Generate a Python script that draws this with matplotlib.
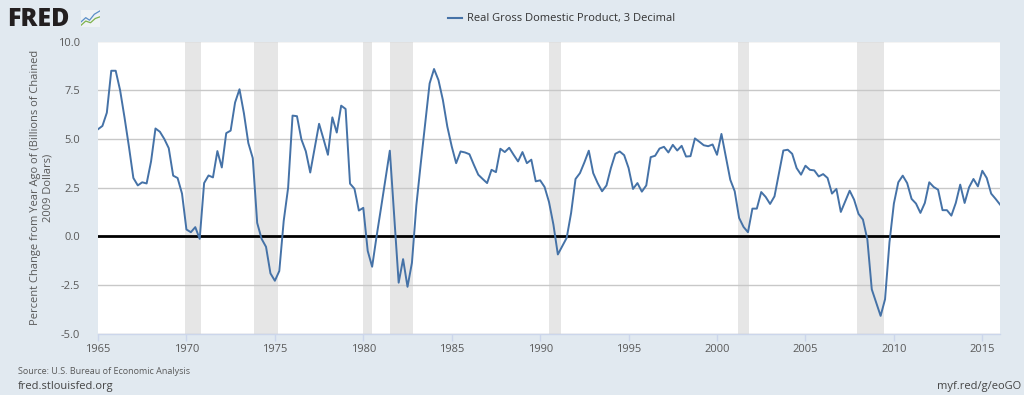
import matplotlib
matplotlib.use("Agg")
import matplotlib.pyplot as plt
import numpy as np

# ---------------- data ----------------
start_year = 1965          # first observation: 1965 Q1, quarterly
gdp_yoy = [
    5.50, 5.67, 6.35, 8.50,   # 1965
    8.50, 7.50, 6.10, 4.60,   # 1966
    3.00, 2.62, 2.78, 2.72,   # 1967
    3.85, 5.54, 5.37, 5.00,   # 1968
    4.53, 3.12, 3.00, 2.20,   # 1969
    0.36, 0.22, 0.48, -0.12,  # 1970
    2.74, 3.13, 3.03, 4.38,   # 1971
    3.54, 5.30, 5.43, 6.87,   # 1972
    7.55, 6.32, 4.79, 4.02,   # 1973
    0.70, -0.12, -0.53, -1.89,  # 1974
    -2.27, -1.77, 0.80, 2.50,   # 1975
    6.20, 6.17, 4.98, 4.37,   # 1976
    3.28, 4.53, 5.78, 5.00,   # 1977
    4.19, 6.11, 5.33, 6.71,   # 1978
    6.54, 2.71, 2.45, 1.33,   # 1979
    1.47, -0.74, -1.55, 0.00,   # 1980
    1.45, 2.94, 4.40, 1.04,   # 1981
    -2.37, -1.16, -2.58, -1.35,  # 1982
    1.60, 3.75, 5.82, 7.85,   # 1983
    8.59, 8.02, 7.00, 5.64,   # 1984
    4.62, 3.76, 4.36, 4.31,   # 1985
    4.22, 3.68, 3.17, 2.95,   # 1986
    2.74, 3.42, 3.30, 4.50,   # 1987
    4.33, 4.55, 4.19, 3.85,   # 1988
    4.33, 3.76, 3.94, 2.83,   # 1989
    2.88, 2.54, 1.77, 0.61,   # 1990
    -0.92, -0.49, -0.07, 1.21,  # 1991
    2.95, 3.25, 3.80, 4.40,   # 1992
    3.25, 2.74, 2.32, 2.62,   # 1993
    3.51, 4.24, 4.36, 4.17,   # 1994
    3.51, 2.44, 2.74, 2.30,   # 1995
    2.62, 4.07, 4.14, 4.51,   # 1996
    4.60, 4.31, 4.70, 4.41,   # 1997
    4.65, 4.10, 4.12, 5.03,   # 1998
    4.86, 4.68, 4.63, 4.72,   # 1999
    4.19, 5.26, 4.07, 2.91,   # 2000
    2.32, 0.95, 0.49, 0.22,   # 2001
    1.43, 1.43, 2.28, 2.03,   # 2002
    1.67, 2.06, 3.25, 4.41,   # 2003
    4.45, 4.24, 3.51, 3.17,   # 2004
    3.63, 3.42, 3.39, 3.08,   # 2005
    3.20, 3.00, 2.20, 2.44,   # 2006
    1.26, 1.81, 2.35, 1.89,   # 2007
    1.16, 0.87, -0.15, -2.71,   # 2008
    -3.39, -4.07, -3.22, -0.30,  # 2009
    1.69, 2.78, 3.12, 2.74,   # 2010
    1.93, 1.69, 1.21, 1.72,   # 2011
    2.78, 2.54, 2.40, 1.35,   # 2012
    1.35, 1.07, 1.72, 2.66,   # 2013
    1.72, 2.52, 2.95, 2.57,   # 2014
    3.37, 3.00, 2.20, 1.93,   # 2015
    1.64,                     # 2016
]

# NBER recessions (peak month, trough month) as decimal years
rec_start = [1969 + 11/12, 1973 + 10/12, 1980 + 0/12, 1981 + 6/12,
             1990 + 6/12, 2001 + 2/12, 2007 + 11/12]
rec_end = [1970 + 10/12, 1975 + 2/12, 1980 + 6/12, 1982 + 10/12,
           1991 + 2/12, 2001 + 10/12, 2009 + 5/12]

x_ticks = [1965, 1970, 1975, 1980, 1985, 1990, 1995, 2000, 2005, 2010, 2015]
y_ticks = [-5.0, -2.5, 0.0, 2.5, 5.0, 7.5, 10.0]

series_name = "Real Gross Domestic Product, 3 Decimal"
y_label = "Percent Change from Year Ago of (Billions of Chained\n2009 Dollars)"

# ---------------- figure ----------------
plt.rcParams['font.family'] = ['Open Sans', 'DejaVu Sans']

BG = "#e1e9f0"
LINE = "#4572a7"
TXT = "#595959"

fig = plt.figure(figsize=(10.24, 3.95), dpi=100, facecolor=BG)
ax = fig.add_axes([98/1024, 1 - 334/395, 902/1024, (334 - 41.5)/395])
ax.set_facecolor("white")

x = start_year + 0.25 * np.arange(len(gdp_yoy))

for s, e in zip(rec_start, rec_end):
    ax.axvspan(s, e, color="#e6e6e6", lw=0, zorder=0)

for yv in y_ticks:
    if yv == 0:
        continue
    ax.axhline(yv, color="#c8c8c8", lw=1.0, zorder=1)
ax.axhline(0, color="black", lw=2.0, zorder=2)

ax.plot(x, gdp_yoy, color=LINE, lw=1.4, zorder=3, solid_joinstyle="round")

ax.set_xlim(1965, 2016)
ax.set_ylim(-5, 10)
ax.set_xticks(x_ticks)
ax.set_xticklabels([str(t) for t in x_ticks])
ax.set_yticks(y_ticks)
ax.set_yticklabels([f"{t:.1f}" for t in y_ticks])

for side in ("top", "right", "left"):
    ax.spines[side].set_visible(False)
ax.spines["bottom"].set_color("#ccd6eb")
ax.spines["bottom"].set_linewidth(1.0)

ax.tick_params(axis="x", colors="#ccd6eb", length=5, width=1, direction="out",
               labelcolor=TXT, labelsize=8, pad=2)
ax.tick_params(axis="y", length=0, labelcolor=TXT, labelsize=8, pad=13)

ax.set_ylabel(y_label, color=TXT, fontsize=8, linespacing=1.25, labelpad=3)

# legend / title line
fig.lines.append(plt.Line2D([448/1024, 462/1024], [1 - 18/395, 1 - 18/395],
                            color=LINE, lw=1.5, transform=fig.transFigure))
fig.text(467/1024, 1 - 18/395, series_name, ha="left", va="center",
         fontsize=8, color="#333333")

# FRED logo
fig.text(7/1024, 1 - 19/395, "FRED", ha="left", va="center", fontsize=18,
         fontweight="heavy", color="#231f20")
icon = fig.add_axes([81/1024, 1 - 27/395, 19/1024, 17/395])
icon.set_facecolor("#eef2f5")
icon.set_xticks([]); icon.set_yticks([])
for sp in icon.spines.values():
    sp.set_visible(False)
icon.plot([0, 0.25, 0.45, 0.7, 1.0], [0.3, 0.55, 0.4, 0.75, 0.95], color="#5b8fc7", lw=0.9)
icon.plot([0, 0.25, 0.5, 0.75, 1.0], [0.1, 0.35, 0.25, 0.5, 0.6], color="#7fb34d", lw=0.9)
icon.set_xlim(0, 1); icon.set_ylim(0, 1)

fig.text(18/1024, 1 - 372/395, "Source: U.S. Bureau of Economic Analysis",
         ha="left", va="center", fontsize=6.5, color=TXT)
fig.text(18/1024, 1 - 387/395, "fred.stlouisfed.org", ha="left", va="center",
         fontsize=8, color="#444444")
fig.text(1021/1024, 1 - 387/395, "myf.red/g/eoGO", ha="right", va="center",
         fontsize=8, color="#444444")

fig.savefig("out.png", dpi=100, facecolor=BG)
